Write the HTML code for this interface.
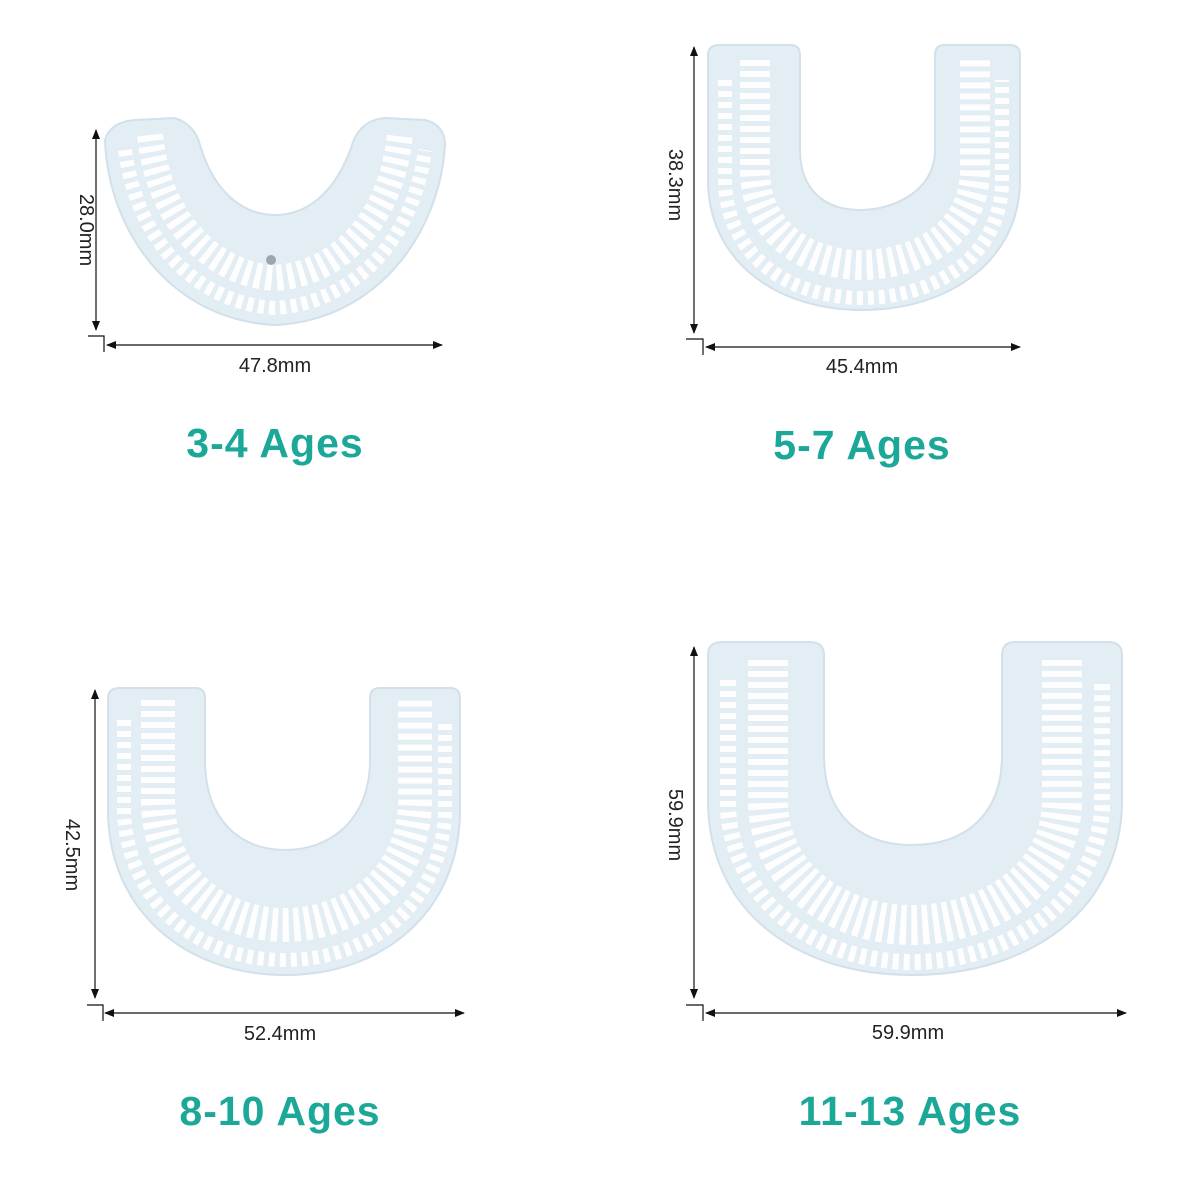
<!DOCTYPE html>
<html><head><meta charset="utf-8"><style>
html,body{margin:0;padding:0;background:#fff;}
svg{display:block}
.lbl{font-family:"Liberation Sans",sans-serif;font-size:20px;fill:#222}
.age{font-family:"Liberation Sans",sans-serif;font-size:41px;font-weight:bold;fill:#1ca898;letter-spacing:1px}
.u{fill:#e3edf4;stroke:#d3e0ea;stroke-width:2}
.br{fill:none;stroke:#ffffff;stroke-dasharray:6 5;opacity:.95}
.ln{stroke:#111;stroke-width:1.2}
</style></head><body>
<svg width="1200" height="1200" viewBox="0 0 1200 1200" xmlns="http://www.w3.org/2000/svg">
<defs>
<marker id="a" markerWidth="10" markerHeight="8" refX="9" refY="4" orient="auto-start-reverse" markerUnits="userSpaceOnUse"><path d="M0,0 L10,4 L0,8 Z" fill="#111"/></marker>
</defs>

<!-- Panel 1 -->
<path class="u" d="M105,140 Q110,122 135,120 L175,118 Q195,125 200,145 C215,195 245,215 275,215 C305,215 335,195 352,145 Q360,120 385,118 L425,120 Q445,125 445,145 C440,230 380,320 275,325 C170,320 108,230 105,140 Z"/>
<path class="br" stroke-width="26" d="M150,135 C160,230 220,275 275,278 C330,275 390,230 400,135"/>
<path class="br" stroke-width="14" d="M125,150 C140,260 215,305 275,308 C335,305 410,260 425,150" opacity=".7"/>
<circle cx="271" cy="260" r="5" fill="#9aa6b0"/>
<line class="ln" x1="96" y1="130" x2="96" y2="330" marker-start="url(#a)" marker-end="url(#a)"/>
<line class="ln" x1="107" y1="345" x2="442" y2="345" marker-start="url(#a)" marker-end="url(#a)"/>
<path class="ln" fill="none" d="M88,336 L104,336 L104,352"/>
<text class="lbl" transform="translate(80,230) rotate(90)" text-anchor="middle">28.0mm</text>
<text class="lbl" x="275" y="372" text-anchor="middle">47.8mm</text>
<text class="age" x="275" y="457" text-anchor="middle">3-4 Ages</text>

<!-- Panel 2 -->
<path class="u" d="M708,55 Q708,45 720,45 L790,45 Q800,45 800,55 L800,150 C800,190 825,210 860,210 C895,210 935,190 935,150 L935,55 Q935,45 945,45 L1010,45 Q1020,45 1020,55 L1020,180 C1020,260 950,310 862,310 C775,310 708,260 708,180 Z"/>
<path class="br" stroke-width="30" d="M755,60 L755,170 C755,235 810,265 862,265 C915,265 975,235 975,170 L975,60"/>
<path class="br" stroke-width="14" d="M725,80 L725,185 C730,265 800,298 862,298 C925,298 998,265 1002,185 L1002,80" opacity=".7"/>
<line class="ln" x1="694" y1="47" x2="694" y2="333" marker-start="url(#a)" marker-end="url(#a)"/>
<line class="ln" x1="706" y1="347" x2="1020" y2="347" marker-start="url(#a)" marker-end="url(#a)"/>
<path class="ln" fill="none" d="M686,339 L703,339 L703,355"/>
<text class="lbl" transform="translate(669,185) rotate(90)" text-anchor="middle">38.3mm</text>
<text class="lbl" x="862" y="373" text-anchor="middle">45.4mm</text>
<text class="age" x="862" y="459" text-anchor="middle">5-7 Ages</text>

<!-- Panel 3 -->
<path class="u" d="M108,698 Q108,688 120,688 L195,688 Q205,688 205,698 L205,760 C205,820 240,850 285,850 C330,850 370,820 370,760 L370,698 Q370,688 380,688 L450,688 Q460,688 460,698 L460,810 C460,910 385,975 285,975 C185,975 108,910 108,810 Z"/>
<path class="br" stroke-width="34" d="M158,700 L158,800 C158,880 220,925 285,925 C350,925 415,880 415,800 L415,700"/>
<path class="br" stroke-width="14" d="M124,720 L124,815 C130,905 200,960 285,960 C370,960 440,905 445,815 L445,720" opacity=".7"/>
<line class="ln" x1="95" y1="690" x2="95" y2="998" marker-start="url(#a)" marker-end="url(#a)"/>
<line class="ln" x1="105" y1="1013" x2="464" y2="1013" marker-start="url(#a)" marker-end="url(#a)"/>
<path class="ln" fill="none" d="M87,1005 L103,1005 L103,1021"/>
<text class="lbl" transform="translate(66,855) rotate(90)" text-anchor="middle">42.5mm</text>
<text class="lbl" x="280" y="1040" text-anchor="middle">52.4mm</text>
<text class="age" x="280" y="1125" text-anchor="middle">8-10 Ages</text>

<!-- Panel 4 -->
<path class="u" d="M708,655 Q708,642 722,642 L810,642 Q824,642 824,655 L824,755 C824,815 860,845 912,845 C965,845 1002,815 1002,755 L1002,655 Q1002,642 1015,642 L1108,642 Q1122,642 1122,655 L1122,800 C1122,910 1030,975 912,975 C795,975 708,910 708,800 Z"/>
<path class="br" stroke-width="40" d="M768,660 L768,800 C768,880 840,925 912,925 C985,925 1062,880 1062,800 L1062,660"/>
<path class="br" stroke-width="16" d="M728,680 L728,810 C735,905 820,962 912,962 C1005,962 1095,905 1102,810 L1102,680" opacity=".7"/>
<line class="ln" x1="694" y1="647" x2="694" y2="998" marker-start="url(#a)" marker-end="url(#a)"/>
<line class="ln" x1="706" y1="1013" x2="1126" y2="1013" marker-start="url(#a)" marker-end="url(#a)"/>
<path class="ln" fill="none" d="M686,1005 L703,1005 L703,1021"/>
<text class="lbl" transform="translate(669,825) rotate(90)" text-anchor="middle">59.9mm</text>
<text class="lbl" x="908" y="1039" text-anchor="middle">59.9mm</text>
<text class="age" x="910" y="1125" text-anchor="middle">11-13 Ages</text>
</svg>
</body></html>
